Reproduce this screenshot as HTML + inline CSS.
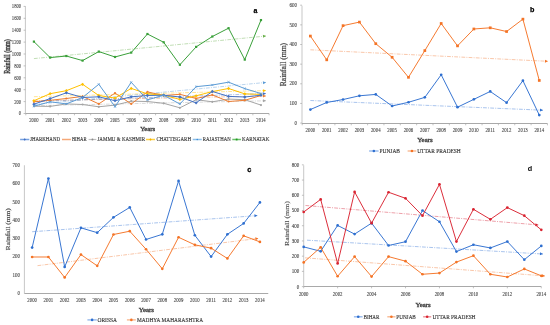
<!DOCTYPE html>
<html><head><meta charset="utf-8"><style>
html,body{margin:0;padding:0;background:#fff;}
body{width:550px;height:325px;overflow:hidden;font-family:"Liberation Serif", serif;}
svg{display:block;will-change:transform;}
</style></head><body>
<svg width="550" height="325" viewBox="0 0 550 325">
<rect width="550" height="325" fill="#fff"/>
<line x1="25.4" y1="6.2" x2="25.4" y2="113.5" stroke="#c4c4c4" stroke-width="0.95"/>
<line x1="25.4" y1="113.5" x2="269.1" y2="113.5" stroke="#a9a9a9" stroke-width="1.0"/>
<text x="21.2" y="115.45" font-size="5.4" fill="#444444" text-anchor="end" font-weight="normal" font-family='"Liberation Serif", serif' stroke="#444444" stroke-width="0.1" textLength="2.35" lengthAdjust="spacingAndGlyphs">0</text>
<line x1="23.6" y1="113.5" x2="25.4" y2="113.5" stroke="#a8a8a8" stroke-width="0.7"/>
<text x="21.2" y="103.55" font-size="5.4" fill="#444444" text-anchor="end" font-weight="normal" font-family='"Liberation Serif", serif' stroke="#444444" stroke-width="0.1" textLength="7.05" lengthAdjust="spacingAndGlyphs">200</text>
<line x1="23.6" y1="101.6" x2="25.4" y2="101.6" stroke="#a8a8a8" stroke-width="0.7"/>
<text x="21.2" y="91.65" font-size="5.4" fill="#444444" text-anchor="end" font-weight="normal" font-family='"Liberation Serif", serif' stroke="#444444" stroke-width="0.1" textLength="7.05" lengthAdjust="spacingAndGlyphs">400</text>
<line x1="23.6" y1="89.7" x2="25.4" y2="89.7" stroke="#a8a8a8" stroke-width="0.7"/>
<text x="21.2" y="79.75" font-size="5.4" fill="#444444" text-anchor="end" font-weight="normal" font-family='"Liberation Serif", serif' stroke="#444444" stroke-width="0.1" textLength="7.05" lengthAdjust="spacingAndGlyphs">600</text>
<line x1="23.6" y1="77.8" x2="25.4" y2="77.8" stroke="#a8a8a8" stroke-width="0.7"/>
<text x="21.2" y="67.85" font-size="5.4" fill="#444444" text-anchor="end" font-weight="normal" font-family='"Liberation Serif", serif' stroke="#444444" stroke-width="0.1" textLength="7.05" lengthAdjust="spacingAndGlyphs">800</text>
<line x1="23.6" y1="65.9" x2="25.4" y2="65.9" stroke="#a8a8a8" stroke-width="0.7"/>
<text x="21.2" y="55.95" font-size="5.4" fill="#444444" text-anchor="end" font-weight="normal" font-family='"Liberation Serif", serif' stroke="#444444" stroke-width="0.1" textLength="9.4" lengthAdjust="spacingAndGlyphs">1000</text>
<line x1="23.6" y1="54" x2="25.4" y2="54" stroke="#a8a8a8" stroke-width="0.7"/>
<text x="21.2" y="44.05" font-size="5.4" fill="#444444" text-anchor="end" font-weight="normal" font-family='"Liberation Serif", serif' stroke="#444444" stroke-width="0.1" textLength="9.4" lengthAdjust="spacingAndGlyphs">1200</text>
<line x1="23.6" y1="42.1" x2="25.4" y2="42.1" stroke="#a8a8a8" stroke-width="0.7"/>
<text x="21.2" y="32.15" font-size="5.4" fill="#444444" text-anchor="end" font-weight="normal" font-family='"Liberation Serif", serif' stroke="#444444" stroke-width="0.1" textLength="9.4" lengthAdjust="spacingAndGlyphs">1400</text>
<line x1="23.6" y1="30.2" x2="25.4" y2="30.2" stroke="#a8a8a8" stroke-width="0.7"/>
<text x="21.2" y="20.25" font-size="5.4" fill="#444444" text-anchor="end" font-weight="normal" font-family='"Liberation Serif", serif' stroke="#444444" stroke-width="0.1" textLength="9.4" lengthAdjust="spacingAndGlyphs">1600</text>
<line x1="23.6" y1="18.3" x2="25.4" y2="18.3" stroke="#a8a8a8" stroke-width="0.7"/>
<text x="21.2" y="8.35" font-size="5.4" fill="#444444" text-anchor="end" font-weight="normal" font-family='"Liberation Serif", serif' stroke="#444444" stroke-width="0.1" textLength="9.4" lengthAdjust="spacingAndGlyphs">1800</text>
<line x1="23.6" y1="6.4" x2="25.4" y2="6.4" stroke="#a8a8a8" stroke-width="0.7"/>
<line x1="25.8" y1="113.5" x2="25.8" y2="115.3" stroke="#a8a8a8" stroke-width="0.7"/>
<line x1="42.02" y1="113.5" x2="42.02" y2="115.3" stroke="#a8a8a8" stroke-width="0.7"/>
<line x1="58.24" y1="113.5" x2="58.24" y2="115.3" stroke="#a8a8a8" stroke-width="0.7"/>
<line x1="74.46" y1="113.5" x2="74.46" y2="115.3" stroke="#a8a8a8" stroke-width="0.7"/>
<line x1="90.68" y1="113.5" x2="90.68" y2="115.3" stroke="#a8a8a8" stroke-width="0.7"/>
<line x1="106.9" y1="113.5" x2="106.9" y2="115.3" stroke="#a8a8a8" stroke-width="0.7"/>
<line x1="123.12" y1="113.5" x2="123.12" y2="115.3" stroke="#a8a8a8" stroke-width="0.7"/>
<line x1="139.34" y1="113.5" x2="139.34" y2="115.3" stroke="#a8a8a8" stroke-width="0.7"/>
<line x1="155.56" y1="113.5" x2="155.56" y2="115.3" stroke="#a8a8a8" stroke-width="0.7"/>
<line x1="171.78" y1="113.5" x2="171.78" y2="115.3" stroke="#a8a8a8" stroke-width="0.7"/>
<line x1="188" y1="113.5" x2="188" y2="115.3" stroke="#a8a8a8" stroke-width="0.7"/>
<line x1="204.22" y1="113.5" x2="204.22" y2="115.3" stroke="#a8a8a8" stroke-width="0.7"/>
<line x1="220.44" y1="113.5" x2="220.44" y2="115.3" stroke="#a8a8a8" stroke-width="0.7"/>
<line x1="236.66" y1="113.5" x2="236.66" y2="115.3" stroke="#a8a8a8" stroke-width="0.7"/>
<line x1="252.88" y1="113.5" x2="252.88" y2="115.3" stroke="#a8a8a8" stroke-width="0.7"/>
<line x1="269.1" y1="113.5" x2="269.1" y2="115.3" stroke="#a8a8a8" stroke-width="0.7"/>
<text x="33.91" y="121.95" font-size="5.4" fill="#444444" text-anchor="middle" font-weight="normal" font-family='"Liberation Serif", serif' stroke="#444444" stroke-width="0.1" textLength="9.3" lengthAdjust="spacingAndGlyphs">2000</text>
<text x="50.13" y="121.95" font-size="5.4" fill="#444444" text-anchor="middle" font-weight="normal" font-family='"Liberation Serif", serif' stroke="#444444" stroke-width="0.1" textLength="9.3" lengthAdjust="spacingAndGlyphs">2001</text>
<text x="66.35" y="121.95" font-size="5.4" fill="#444444" text-anchor="middle" font-weight="normal" font-family='"Liberation Serif", serif' stroke="#444444" stroke-width="0.1" textLength="9.3" lengthAdjust="spacingAndGlyphs">2002</text>
<text x="82.57" y="121.95" font-size="5.4" fill="#444444" text-anchor="middle" font-weight="normal" font-family='"Liberation Serif", serif' stroke="#444444" stroke-width="0.1" textLength="9.3" lengthAdjust="spacingAndGlyphs">2003</text>
<text x="98.79" y="121.95" font-size="5.4" fill="#444444" text-anchor="middle" font-weight="normal" font-family='"Liberation Serif", serif' stroke="#444444" stroke-width="0.1" textLength="9.3" lengthAdjust="spacingAndGlyphs">2004</text>
<text x="115.01" y="121.95" font-size="5.4" fill="#444444" text-anchor="middle" font-weight="normal" font-family='"Liberation Serif", serif' stroke="#444444" stroke-width="0.1" textLength="9.3" lengthAdjust="spacingAndGlyphs">2005</text>
<text x="131.23" y="121.95" font-size="5.4" fill="#444444" text-anchor="middle" font-weight="normal" font-family='"Liberation Serif", serif' stroke="#444444" stroke-width="0.1" textLength="9.3" lengthAdjust="spacingAndGlyphs">2006</text>
<text x="147.45" y="121.95" font-size="5.4" fill="#444444" text-anchor="middle" font-weight="normal" font-family='"Liberation Serif", serif' stroke="#444444" stroke-width="0.1" textLength="9.3" lengthAdjust="spacingAndGlyphs">2007</text>
<text x="163.67" y="121.95" font-size="5.4" fill="#444444" text-anchor="middle" font-weight="normal" font-family='"Liberation Serif", serif' stroke="#444444" stroke-width="0.1" textLength="9.3" lengthAdjust="spacingAndGlyphs">2008</text>
<text x="179.89" y="121.95" font-size="5.4" fill="#444444" text-anchor="middle" font-weight="normal" font-family='"Liberation Serif", serif' stroke="#444444" stroke-width="0.1" textLength="9.3" lengthAdjust="spacingAndGlyphs">2009</text>
<text x="196.11" y="121.95" font-size="5.4" fill="#444444" text-anchor="middle" font-weight="normal" font-family='"Liberation Serif", serif' stroke="#444444" stroke-width="0.1" textLength="9.3" lengthAdjust="spacingAndGlyphs">2010</text>
<text x="212.33" y="121.95" font-size="5.4" fill="#444444" text-anchor="middle" font-weight="normal" font-family='"Liberation Serif", serif' stroke="#444444" stroke-width="0.1" textLength="9.3" lengthAdjust="spacingAndGlyphs">2011</text>
<text x="228.55" y="121.95" font-size="5.4" fill="#444444" text-anchor="middle" font-weight="normal" font-family='"Liberation Serif", serif' stroke="#444444" stroke-width="0.1" textLength="9.3" lengthAdjust="spacingAndGlyphs">2012</text>
<text x="244.77" y="121.95" font-size="5.4" fill="#444444" text-anchor="middle" font-weight="normal" font-family='"Liberation Serif", serif' stroke="#444444" stroke-width="0.1" textLength="9.3" lengthAdjust="spacingAndGlyphs">2013</text>
<text x="260.99" y="121.95" font-size="5.4" fill="#444444" text-anchor="middle" font-weight="normal" font-family='"Liberation Serif", serif' stroke="#444444" stroke-width="0.1" textLength="9.3" lengthAdjust="spacingAndGlyphs">2014</text>
<text x="147.6" y="131.2" font-size="6.9" fill="#404040" text-anchor="middle" font-weight="normal" font-family='"Liberation Serif", serif' stroke="#404040" stroke-width="0.38" textLength="14.9" lengthAdjust="spacingAndGlyphs">Years</text>
<text x="9.7" y="56.6" font-size="7.3" fill="#404040" text-anchor="middle" font-weight="normal" font-family='"Liberation Serif", serif' stroke="#404040" stroke-width="0.4" transform="rotate(-90 9.7 56.6)" textLength="34.5" lengthAdjust="spacingAndGlyphs">Rainfall (mm)</text>
<text x="255.4" y="12.9" font-size="7" fill="#000" text-anchor="middle" font-weight="bold" font-family='"Liberation Sans", sans-serif' stroke="#000" stroke-width="0.25">a</text>
<line x1="33.91" y1="105.7" x2="265.99" y2="100.79" stroke="#a5a5a5" stroke-width="0.7" stroke-dasharray="3.8 1.2 1 1.2" stroke-opacity="0.6"/>
<polygon points="265.99,100.79 263.02,102.36 262.96,99.36" fill="#a5a5a5"/>
<line x1="33.91" y1="100.9" x2="265.99" y2="95.99" stroke="#ed7d31" stroke-width="0.7" stroke-dasharray="3.8 1.2 1 1.2" stroke-opacity="0.6"/>
<polygon points="265.99,95.99 263.02,97.56 262.96,94.56" fill="#ed7d31"/>
<line x1="33.91" y1="96.7" x2="265.99" y2="90.57" stroke="#ffc000" stroke-width="0.7" stroke-dasharray="3.8 1.2 1 1.2" stroke-opacity="0.6"/>
<polygon points="265.99,90.57 263.03,92.15 262.95,89.15" fill="#ffc000"/>
<line x1="33.91" y1="101.5" x2="265.99" y2="93.53" stroke="#4472c4" stroke-width="0.7" stroke-dasharray="3.8 1.2 1 1.2" stroke-opacity="0.6"/>
<polygon points="265.99,93.53 263.04,95.13 262.94,92.13" fill="#4472c4"/>
<line x1="33.91" y1="104.5" x2="265.99" y2="82.42" stroke="#5b9bd5" stroke-width="0.7" stroke-dasharray="3.8 1.2 1 1.2" stroke-opacity="0.6"/>
<polygon points="265.99,82.42 263.15,84.2 262.86,81.22" fill="#5b9bd5"/>
<line x1="33.91" y1="58.6" x2="265.99" y2="36.03" stroke="#6ab04c" stroke-width="0.7" stroke-dasharray="3.8 1.2 1 1.2" stroke-opacity="0.6"/>
<polygon points="265.99,36.03 263.15,37.82 262.86,34.83" fill="#6ab04c"/>
<polyline fill="none" stroke="#a5a5a5" stroke-width="1.0" stroke-linejoin="round" points="33.91,106.18 50.13,106.42 66.35,103.9 82.57,104.5 98.79,106.78 115.01,105.1 131.23,101.2 147.45,101.5 163.67,103.3 179.89,107.8 196.11,99.7 212.33,101.8 228.55,99.1 244.77,99.7 260.99,105.1"/>
<circle cx="33.91" cy="106.18" r="1.1" fill="#a5a5a5"/>
<circle cx="50.13" cy="106.42" r="1.1" fill="#a5a5a5"/>
<circle cx="66.35" cy="103.9" r="1.1" fill="#a5a5a5"/>
<circle cx="82.57" cy="104.5" r="1.1" fill="#a5a5a5"/>
<circle cx="98.79" cy="106.78" r="1.1" fill="#a5a5a5"/>
<circle cx="115.01" cy="105.1" r="1.1" fill="#a5a5a5"/>
<circle cx="131.23" cy="101.2" r="1.1" fill="#a5a5a5"/>
<circle cx="147.45" cy="101.5" r="1.1" fill="#a5a5a5"/>
<circle cx="163.67" cy="103.3" r="1.1" fill="#a5a5a5"/>
<circle cx="179.89" cy="107.8" r="1.1" fill="#a5a5a5"/>
<circle cx="196.11" cy="99.7" r="1.1" fill="#a5a5a5"/>
<circle cx="212.33" cy="101.8" r="1.1" fill="#a5a5a5"/>
<circle cx="228.55" cy="99.1" r="1.1" fill="#a5a5a5"/>
<circle cx="244.77" cy="99.7" r="1.1" fill="#a5a5a5"/>
<circle cx="260.99" cy="105.1" r="1.1" fill="#a5a5a5"/>
<polyline fill="none" stroke="#ed7d31" stroke-width="1.0" stroke-linejoin="round" points="33.91,101.8 50.13,100.3 66.35,98.5 82.57,96.4 98.79,103.9 115.01,93.1 131.23,103.9 147.45,91.9 163.67,95.5 179.89,94.3 196.11,98.5 212.33,94.9 228.55,101.5 244.77,100.3 260.99,95.5"/>
<circle cx="33.91" cy="101.8" r="1.1" fill="#ed7d31"/>
<circle cx="50.13" cy="100.3" r="1.1" fill="#ed7d31"/>
<circle cx="66.35" cy="98.5" r="1.1" fill="#ed7d31"/>
<circle cx="82.57" cy="96.4" r="1.1" fill="#ed7d31"/>
<circle cx="98.79" cy="103.9" r="1.1" fill="#ed7d31"/>
<circle cx="115.01" cy="93.1" r="1.1" fill="#ed7d31"/>
<circle cx="131.23" cy="103.9" r="1.1" fill="#ed7d31"/>
<circle cx="147.45" cy="91.9" r="1.1" fill="#ed7d31"/>
<circle cx="163.67" cy="95.5" r="1.1" fill="#ed7d31"/>
<circle cx="179.89" cy="94.3" r="1.1" fill="#ed7d31"/>
<circle cx="196.11" cy="98.5" r="1.1" fill="#ed7d31"/>
<circle cx="212.33" cy="94.9" r="1.1" fill="#ed7d31"/>
<circle cx="228.55" cy="101.5" r="1.1" fill="#ed7d31"/>
<circle cx="244.77" cy="100.3" r="1.1" fill="#ed7d31"/>
<circle cx="260.99" cy="95.5" r="1.1" fill="#ed7d31"/>
<polyline fill="none" stroke="#ffc000" stroke-width="1.0" stroke-linejoin="round" points="33.91,100.72 50.13,93.7 66.35,90.7 82.57,84.28 98.79,95.5 115.01,98.08 131.23,88.42 147.45,93.88 163.67,95.2 179.89,99.4 196.11,95.8 212.33,91.6 228.55,88.48 244.77,93.88 260.99,94.42"/>
<polygon points="33.91,99.07 35.56,100.72 33.91,102.37 32.26,100.72" fill="#ffc000"/>
<polygon points="50.13,92.05 51.78,93.7 50.13,95.35 48.48,93.7" fill="#ffc000"/>
<polygon points="66.35,89.05 68,90.7 66.35,92.35 64.7,90.7" fill="#ffc000"/>
<polygon points="82.57,82.63 84.22,84.28 82.57,85.93 80.92,84.28" fill="#ffc000"/>
<polygon points="98.79,93.85 100.44,95.5 98.79,97.15 97.14,95.5" fill="#ffc000"/>
<polygon points="115.01,96.43 116.66,98.08 115.01,99.73 113.36,98.08" fill="#ffc000"/>
<polygon points="131.23,86.77 132.88,88.42 131.23,90.07 129.58,88.42" fill="#ffc000"/>
<polygon points="147.45,92.23 149.1,93.88 147.45,95.53 145.8,93.88" fill="#ffc000"/>
<polygon points="163.67,93.55 165.32,95.2 163.67,96.85 162.02,95.2" fill="#ffc000"/>
<polygon points="179.89,97.75 181.54,99.4 179.89,101.05 178.24,99.4" fill="#ffc000"/>
<polygon points="196.11,94.15 197.76,95.8 196.11,97.45 194.46,95.8" fill="#ffc000"/>
<polygon points="212.33,89.95 213.98,91.6 212.33,93.25 210.68,91.6" fill="#ffc000"/>
<polygon points="228.55,86.83 230.2,88.48 228.55,90.13 226.9,88.48" fill="#ffc000"/>
<polygon points="244.77,92.23 246.42,93.88 244.77,95.53 243.12,93.88" fill="#ffc000"/>
<polygon points="260.99,92.77 262.64,94.42 260.99,96.07 259.34,94.42" fill="#ffc000"/>
<polyline fill="none" stroke="#4472c4" stroke-width="1.0" stroke-linejoin="round" points="33.91,104.2 50.13,98.62 66.35,92.8 82.57,97.48 98.79,96.82 115.01,100.72 131.23,96.82 147.45,95.5 163.67,95.2 179.89,97 196.11,102.82 212.33,91.48 228.55,96.4 244.77,97 260.99,95.2"/>
<polygon points="33.91,102.55 35.56,104.2 33.91,105.85 32.26,104.2" fill="#4472c4"/>
<polygon points="50.13,96.97 51.78,98.62 50.13,100.27 48.48,98.62" fill="#4472c4"/>
<polygon points="66.35,91.15 68,92.8 66.35,94.45 64.7,92.8" fill="#4472c4"/>
<polygon points="82.57,95.83 84.22,97.48 82.57,99.13 80.92,97.48" fill="#4472c4"/>
<polygon points="98.79,95.17 100.44,96.82 98.79,98.47 97.14,96.82" fill="#4472c4"/>
<polygon points="115.01,99.07 116.66,100.72 115.01,102.37 113.36,100.72" fill="#4472c4"/>
<polygon points="131.23,95.17 132.88,96.82 131.23,98.47 129.58,96.82" fill="#4472c4"/>
<polygon points="147.45,93.85 149.1,95.5 147.45,97.15 145.8,95.5" fill="#4472c4"/>
<polygon points="163.67,93.55 165.32,95.2 163.67,96.85 162.02,95.2" fill="#4472c4"/>
<polygon points="179.89,95.35 181.54,97 179.89,98.65 178.24,97" fill="#4472c4"/>
<polygon points="196.11,101.17 197.76,102.82 196.11,104.47 194.46,102.82" fill="#4472c4"/>
<polygon points="212.33,89.83 213.98,91.48 212.33,93.13 210.68,91.48" fill="#4472c4"/>
<polygon points="228.55,94.75 230.2,96.4 228.55,98.05 226.9,96.4" fill="#4472c4"/>
<polygon points="244.77,95.35 246.42,97 244.77,98.65 243.12,97" fill="#4472c4"/>
<polygon points="260.99,93.55 262.64,95.2 260.99,96.85 259.34,95.2" fill="#4472c4"/>
<polyline fill="none" stroke="#5b9bd5" stroke-width="1.0" stroke-linejoin="round" points="33.91,106.18 50.13,101.8 66.35,103.9 82.57,97.48 98.79,84.28 115.01,106.72 131.23,82.3 147.45,99.88 163.67,95.2 179.89,104.02 196.11,86.68 212.33,85 228.55,82.18 244.77,88.6 260.99,93.52"/>
<path d="M32.81 105.08L35.01 107.28M32.81 107.28L35.01 105.08" stroke="#5b9bd5" stroke-width="0.7"/>
<path d="M49.03 100.7L51.23 102.9M49.03 102.9L51.23 100.7" stroke="#5b9bd5" stroke-width="0.7"/>
<path d="M65.25 102.8L67.45 105M65.25 105L67.45 102.8" stroke="#5b9bd5" stroke-width="0.7"/>
<path d="M81.47 96.38L83.67 98.58M81.47 98.58L83.67 96.38" stroke="#5b9bd5" stroke-width="0.7"/>
<path d="M97.69 83.18L99.89 85.38M97.69 85.38L99.89 83.18" stroke="#5b9bd5" stroke-width="0.7"/>
<path d="M113.91 105.62L116.11 107.82M113.91 107.82L116.11 105.62" stroke="#5b9bd5" stroke-width="0.7"/>
<path d="M130.13 81.2L132.33 83.4M130.13 83.4L132.33 81.2" stroke="#5b9bd5" stroke-width="0.7"/>
<path d="M146.35 98.78L148.55 100.98M146.35 100.98L148.55 98.78" stroke="#5b9bd5" stroke-width="0.7"/>
<path d="M162.57 94.1L164.77 96.3M162.57 96.3L164.77 94.1" stroke="#5b9bd5" stroke-width="0.7"/>
<path d="M178.79 102.92L180.99 105.12M178.79 105.12L180.99 102.92" stroke="#5b9bd5" stroke-width="0.7"/>
<path d="M195.01 85.58L197.21 87.78M195.01 87.78L197.21 85.58" stroke="#5b9bd5" stroke-width="0.7"/>
<path d="M211.23 83.9L213.43 86.1M211.23 86.1L213.43 83.9" stroke="#5b9bd5" stroke-width="0.7"/>
<path d="M227.45 81.08L229.65 83.28M227.45 83.28L229.65 81.08" stroke="#5b9bd5" stroke-width="0.7"/>
<path d="M243.67 87.5L245.87 89.7M243.67 89.7L245.87 87.5" stroke="#5b9bd5" stroke-width="0.7"/>
<path d="M259.89 92.42L262.09 94.62M259.89 94.62L262.09 92.42" stroke="#5b9bd5" stroke-width="0.7"/>
<polyline fill="none" stroke="#3aa03a" stroke-width="1.0" stroke-linejoin="round" points="33.91,41.62 50.13,57.58 66.35,56.02 82.57,60.58 98.79,51.58 115.01,56.98 131.23,52.6 147.45,34 163.67,42.28 179.89,64.78 196.11,46.9 212.33,36.52 228.55,28.18 244.77,59.62 260.99,20.08"/>
<rect x="32.81" y="40.52" width="2.2" height="2.2" fill="#3aa03a"/>
<rect x="49.03" y="56.48" width="2.2" height="2.2" fill="#3aa03a"/>
<rect x="65.25" y="54.92" width="2.2" height="2.2" fill="#3aa03a"/>
<rect x="81.47" y="59.48" width="2.2" height="2.2" fill="#3aa03a"/>
<rect x="97.69" y="50.48" width="2.2" height="2.2" fill="#3aa03a"/>
<rect x="113.91" y="55.88" width="2.2" height="2.2" fill="#3aa03a"/>
<rect x="130.13" y="51.5" width="2.2" height="2.2" fill="#3aa03a"/>
<rect x="146.35" y="32.9" width="2.2" height="2.2" fill="#3aa03a"/>
<rect x="162.57" y="41.18" width="2.2" height="2.2" fill="#3aa03a"/>
<rect x="178.79" y="63.68" width="2.2" height="2.2" fill="#3aa03a"/>
<rect x="195.01" y="45.8" width="2.2" height="2.2" fill="#3aa03a"/>
<rect x="211.23" y="35.42" width="2.2" height="2.2" fill="#3aa03a"/>
<rect x="227.45" y="27.08" width="2.2" height="2.2" fill="#3aa03a"/>
<rect x="243.67" y="58.52" width="2.2" height="2.2" fill="#3aa03a"/>
<rect x="259.89" y="18.98" width="2.2" height="2.2" fill="#3aa03a"/>
<line x1="20.1" y1="139.5" x2="29.3" y2="139.5" stroke="#7aa3e0" stroke-width="1.5"/>
<polygon points="24.7,138.3 25.9,139.5 24.7,140.7 23.5,139.5" fill="#3f6fc4"/>
<text x="30" y="141.24" font-size="5.8" fill="#383838" text-anchor="start" font-weight="normal" font-family='"Liberation Serif", serif' stroke="#383838" stroke-width="0.15" textLength="30" lengthAdjust="spacingAndGlyphs">JHARKHAND</text>
<line x1="62" y1="139.5" x2="70.9" y2="139.5" stroke="#f5a878" stroke-width="1.5"/>
<text x="71.9" y="141.24" font-size="5.8" fill="#383838" text-anchor="start" font-weight="normal" font-family='"Liberation Serif", serif' stroke="#383838" stroke-width="0.15" textLength="14.7" lengthAdjust="spacingAndGlyphs">BIHAR</text>
<line x1="88.6" y1="139.5" x2="96.3" y2="139.5" stroke="#c0c0c0" stroke-width="1.2"/>
<circle cx="92.45" cy="139.5" r="0.95" fill="#8a8a8a"/>
<text x="97.4" y="141.24" font-size="5.8" fill="#383838" text-anchor="start" font-weight="normal" font-family='"Liberation Serif", serif' stroke="#383838" stroke-width="0.15" textLength="47.6" lengthAdjust="spacingAndGlyphs">JAMMU &amp; KASHMIR</text>
<line x1="146" y1="139.5" x2="155" y2="139.5" stroke="#ffd040" stroke-width="1.5"/>
<polygon points="150.5,138.3 151.7,139.5 150.5,140.7 149.3,139.5" fill="#f0b000"/>
<text x="156.4" y="141.24" font-size="5.8" fill="#383838" text-anchor="start" font-weight="normal" font-family='"Liberation Serif", serif' stroke="#383838" stroke-width="0.15" textLength="34.6" lengthAdjust="spacingAndGlyphs">CHATTISGARH</text>
<line x1="192.7" y1="139.5" x2="201.8" y2="139.5" stroke="#8fc0ea" stroke-width="1.5"/>
<circle cx="197.25" cy="139.5" r="0.8" fill="#3d8fd8"/>
<text x="202.7" y="141.24" font-size="5.8" fill="#383838" text-anchor="start" font-weight="normal" font-family='"Liberation Serif", serif' stroke="#383838" stroke-width="0.15" textLength="28" lengthAdjust="spacingAndGlyphs">RAJASTHAN</text>
<line x1="232.3" y1="139.5" x2="241" y2="139.5" stroke="#6cc06c" stroke-width="1.5"/>
<rect x="235.75" y="138.6" width="1.8" height="1.8" fill="#1e9a1e"/>
<text x="242" y="141.24" font-size="5.8" fill="#383838" text-anchor="start" font-weight="normal" font-family='"Liberation Serif", serif' stroke="#383838" stroke-width="0.15" textLength="27.3" lengthAdjust="spacingAndGlyphs">KARNATAK</text>
<line x1="302" y1="5.7" x2="302" y2="123.5" stroke="#c4c4c4" stroke-width="0.95"/>
<line x1="302" y1="123.5" x2="547.45" y2="123.5" stroke="#a9a9a9" stroke-width="1.0"/>
<text x="297" y="124.75" font-size="5.4" fill="#444444" text-anchor="end" font-weight="normal" font-family='"Liberation Serif", serif' stroke="#444444" stroke-width="0.1" textLength="2.5" lengthAdjust="spacingAndGlyphs">0</text>
<line x1="300.2" y1="123.1" x2="302" y2="123.1" stroke="#a8a8a8" stroke-width="0.7"/>
<text x="297" y="105.1" font-size="5.4" fill="#444444" text-anchor="end" font-weight="normal" font-family='"Liberation Serif", serif' stroke="#444444" stroke-width="0.1" textLength="7.5" lengthAdjust="spacingAndGlyphs">100</text>
<line x1="300.2" y1="103.45" x2="302" y2="103.45" stroke="#a8a8a8" stroke-width="0.7"/>
<text x="297" y="85.45" font-size="5.4" fill="#444444" text-anchor="end" font-weight="normal" font-family='"Liberation Serif", serif' stroke="#444444" stroke-width="0.1" textLength="7.5" lengthAdjust="spacingAndGlyphs">200</text>
<line x1="300.2" y1="83.8" x2="302" y2="83.8" stroke="#a8a8a8" stroke-width="0.7"/>
<text x="297" y="65.8" font-size="5.4" fill="#444444" text-anchor="end" font-weight="normal" font-family='"Liberation Serif", serif' stroke="#444444" stroke-width="0.1" textLength="7.5" lengthAdjust="spacingAndGlyphs">300</text>
<line x1="300.2" y1="64.15" x2="302" y2="64.15" stroke="#a8a8a8" stroke-width="0.7"/>
<text x="297" y="46.15" font-size="5.4" fill="#444444" text-anchor="end" font-weight="normal" font-family='"Liberation Serif", serif' stroke="#444444" stroke-width="0.1" textLength="7.5" lengthAdjust="spacingAndGlyphs">400</text>
<line x1="300.2" y1="44.5" x2="302" y2="44.5" stroke="#a8a8a8" stroke-width="0.7"/>
<text x="297" y="26.5" font-size="5.4" fill="#444444" text-anchor="end" font-weight="normal" font-family='"Liberation Serif", serif' stroke="#444444" stroke-width="0.1" textLength="7.5" lengthAdjust="spacingAndGlyphs">500</text>
<line x1="300.2" y1="24.85" x2="302" y2="24.85" stroke="#a8a8a8" stroke-width="0.7"/>
<text x="297" y="6.85" font-size="5.4" fill="#444444" text-anchor="end" font-weight="normal" font-family='"Liberation Serif", serif' stroke="#444444" stroke-width="0.1" textLength="7.5" lengthAdjust="spacingAndGlyphs">600</text>
<line x1="300.2" y1="5.2" x2="302" y2="5.2" stroke="#a8a8a8" stroke-width="0.7"/>
<line x1="302.2" y1="123.5" x2="302.2" y2="125.3" stroke="#a8a8a8" stroke-width="0.7"/>
<line x1="318.55" y1="123.5" x2="318.55" y2="125.3" stroke="#a8a8a8" stroke-width="0.7"/>
<line x1="334.9" y1="123.5" x2="334.9" y2="125.3" stroke="#a8a8a8" stroke-width="0.7"/>
<line x1="351.25" y1="123.5" x2="351.25" y2="125.3" stroke="#a8a8a8" stroke-width="0.7"/>
<line x1="367.6" y1="123.5" x2="367.6" y2="125.3" stroke="#a8a8a8" stroke-width="0.7"/>
<line x1="383.95" y1="123.5" x2="383.95" y2="125.3" stroke="#a8a8a8" stroke-width="0.7"/>
<line x1="400.3" y1="123.5" x2="400.3" y2="125.3" stroke="#a8a8a8" stroke-width="0.7"/>
<line x1="416.65" y1="123.5" x2="416.65" y2="125.3" stroke="#a8a8a8" stroke-width="0.7"/>
<line x1="433" y1="123.5" x2="433" y2="125.3" stroke="#a8a8a8" stroke-width="0.7"/>
<line x1="449.35" y1="123.5" x2="449.35" y2="125.3" stroke="#a8a8a8" stroke-width="0.7"/>
<line x1="465.7" y1="123.5" x2="465.7" y2="125.3" stroke="#a8a8a8" stroke-width="0.7"/>
<line x1="482.05" y1="123.5" x2="482.05" y2="125.3" stroke="#a8a8a8" stroke-width="0.7"/>
<line x1="498.4" y1="123.5" x2="498.4" y2="125.3" stroke="#a8a8a8" stroke-width="0.7"/>
<line x1="514.75" y1="123.5" x2="514.75" y2="125.3" stroke="#a8a8a8" stroke-width="0.7"/>
<line x1="531.1" y1="123.5" x2="531.1" y2="125.3" stroke="#a8a8a8" stroke-width="0.7"/>
<line x1="547.45" y1="123.5" x2="547.45" y2="125.3" stroke="#a8a8a8" stroke-width="0.7"/>
<text x="310.38" y="132.1" font-size="5.4" fill="#444444" text-anchor="middle" font-weight="normal" font-family='"Liberation Serif", serif' stroke="#444444" stroke-width="0.1" textLength="9.6" lengthAdjust="spacingAndGlyphs">2000</text>
<text x="326.73" y="132.1" font-size="5.4" fill="#444444" text-anchor="middle" font-weight="normal" font-family='"Liberation Serif", serif' stroke="#444444" stroke-width="0.1" textLength="9.6" lengthAdjust="spacingAndGlyphs">2001</text>
<text x="343.07" y="132.1" font-size="5.4" fill="#444444" text-anchor="middle" font-weight="normal" font-family='"Liberation Serif", serif' stroke="#444444" stroke-width="0.1" textLength="9.6" lengthAdjust="spacingAndGlyphs">2002</text>
<text x="359.43" y="132.1" font-size="5.4" fill="#444444" text-anchor="middle" font-weight="normal" font-family='"Liberation Serif", serif' stroke="#444444" stroke-width="0.1" textLength="9.6" lengthAdjust="spacingAndGlyphs">2003</text>
<text x="375.77" y="132.1" font-size="5.4" fill="#444444" text-anchor="middle" font-weight="normal" font-family='"Liberation Serif", serif' stroke="#444444" stroke-width="0.1" textLength="9.6" lengthAdjust="spacingAndGlyphs">2004</text>
<text x="392.12" y="132.1" font-size="5.4" fill="#444444" text-anchor="middle" font-weight="normal" font-family='"Liberation Serif", serif' stroke="#444444" stroke-width="0.1" textLength="9.6" lengthAdjust="spacingAndGlyphs">2005</text>
<text x="408.48" y="132.1" font-size="5.4" fill="#444444" text-anchor="middle" font-weight="normal" font-family='"Liberation Serif", serif' stroke="#444444" stroke-width="0.1" textLength="9.6" lengthAdjust="spacingAndGlyphs">2006</text>
<text x="424.83" y="132.1" font-size="5.4" fill="#444444" text-anchor="middle" font-weight="normal" font-family='"Liberation Serif", serif' stroke="#444444" stroke-width="0.1" textLength="9.6" lengthAdjust="spacingAndGlyphs">2007</text>
<text x="441.18" y="132.1" font-size="5.4" fill="#444444" text-anchor="middle" font-weight="normal" font-family='"Liberation Serif", serif' stroke="#444444" stroke-width="0.1" textLength="9.6" lengthAdjust="spacingAndGlyphs">2008</text>
<text x="457.52" y="132.1" font-size="5.4" fill="#444444" text-anchor="middle" font-weight="normal" font-family='"Liberation Serif", serif' stroke="#444444" stroke-width="0.1" textLength="9.6" lengthAdjust="spacingAndGlyphs">2009</text>
<text x="473.88" y="132.1" font-size="5.4" fill="#444444" text-anchor="middle" font-weight="normal" font-family='"Liberation Serif", serif' stroke="#444444" stroke-width="0.1" textLength="9.6" lengthAdjust="spacingAndGlyphs">2010</text>
<text x="490.23" y="132.1" font-size="5.4" fill="#444444" text-anchor="middle" font-weight="normal" font-family='"Liberation Serif", serif' stroke="#444444" stroke-width="0.1" textLength="9.6" lengthAdjust="spacingAndGlyphs">2011</text>
<text x="506.58" y="132.1" font-size="5.4" fill="#444444" text-anchor="middle" font-weight="normal" font-family='"Liberation Serif", serif' stroke="#444444" stroke-width="0.1" textLength="9.6" lengthAdjust="spacingAndGlyphs">2012</text>
<text x="522.92" y="132.1" font-size="5.4" fill="#444444" text-anchor="middle" font-weight="normal" font-family='"Liberation Serif", serif' stroke="#444444" stroke-width="0.1" textLength="9.6" lengthAdjust="spacingAndGlyphs">2013</text>
<text x="539.28" y="132.1" font-size="5.4" fill="#444444" text-anchor="middle" font-weight="normal" font-family='"Liberation Serif", serif' stroke="#444444" stroke-width="0.1" textLength="9.6" lengthAdjust="spacingAndGlyphs">2014</text>
<text x="425" y="142.4" font-size="7" fill="#404040" text-anchor="middle" font-weight="normal" font-family='"Liberation Serif", serif' stroke="#404040" stroke-width="0.38" textLength="15.5" lengthAdjust="spacingAndGlyphs">Years</text>
<text x="286.3" y="64.6" font-size="7.2" fill="#404040" text-anchor="middle" font-weight="normal" font-family='"Liberation Serif", serif' stroke="#404040" stroke-width="0.2" transform="rotate(-90 286.3 64.6)" textLength="43.5" lengthAdjust="spacingAndGlyphs">Rainfall (mm)</text>
<text x="532.1" y="12.3" font-size="7.2" fill="#000" text-anchor="middle" font-weight="bold" font-family='"Liberation Sans", sans-serif' stroke="#000" stroke-width="0.25">b</text>
<line x1="310.38" y1="100.5" x2="543" y2="110.2" stroke="#6d9be0" stroke-width="0.7" stroke-dasharray="3.8 1.2 1 1.2" stroke-opacity="0.85"/>
<polygon points="543,110.2 539.94,111.57 540.07,108.58" fill="#2e6fd0"/>
<line x1="310.38" y1="49.81" x2="548" y2="61.3" stroke="#f5a070" stroke-width="0.7" stroke-dasharray="3.8 1.2 1 1.2" stroke-opacity="0.85"/>
<polygon points="548,61.3 544.93,62.65 545.08,59.66" fill="#f47325"/>
<polyline fill="none" stroke="#2e6fd0" stroke-width="0.95" stroke-linejoin="round" points="310.38,109.54 326.73,102.47 343.07,99.52 359.43,95.79 375.77,94.41 392.12,106 408.48,102.27 424.83,97.36 441.18,74.76 457.52,107.18 473.88,99.32 490.23,91.46 506.58,102.66 522.92,80.66 539.28,115.04"/>
<circle cx="310.38" cy="109.54" r="1.35" fill="#2e6fd0"/>
<circle cx="326.73" cy="102.47" r="1.35" fill="#2e6fd0"/>
<circle cx="343.07" cy="99.52" r="1.35" fill="#2e6fd0"/>
<circle cx="359.43" cy="95.79" r="1.35" fill="#2e6fd0"/>
<circle cx="375.77" cy="94.41" r="1.35" fill="#2e6fd0"/>
<circle cx="392.12" cy="106" r="1.35" fill="#2e6fd0"/>
<circle cx="408.48" cy="102.27" r="1.35" fill="#2e6fd0"/>
<circle cx="424.83" cy="97.36" r="1.35" fill="#2e6fd0"/>
<circle cx="441.18" cy="74.76" r="1.35" fill="#2e6fd0"/>
<circle cx="457.52" cy="107.18" r="1.35" fill="#2e6fd0"/>
<circle cx="473.88" cy="99.32" r="1.35" fill="#2e6fd0"/>
<circle cx="490.23" cy="91.46" r="1.35" fill="#2e6fd0"/>
<circle cx="506.58" cy="102.66" r="1.35" fill="#2e6fd0"/>
<circle cx="522.92" cy="80.66" r="1.35" fill="#2e6fd0"/>
<circle cx="539.28" cy="115.04" r="1.35" fill="#2e6fd0"/>
<polyline fill="none" stroke="#f47325" stroke-width="0.95" stroke-linejoin="round" points="310.38,36.05 326.73,59.83 343.07,25.64 359.43,22.1 375.77,43.71 392.12,57.27 408.48,77.32 424.83,50.59 441.18,23.47 457.52,45.88 473.88,28.98 490.23,27.8 506.58,31.53 522.92,19.15 539.28,80.46"/>
<rect x="309.02" y="34.7" width="2.7" height="2.7" fill="#f47325"/>
<rect x="325.38" y="58.48" width="2.7" height="2.7" fill="#f47325"/>
<rect x="341.72" y="24.29" width="2.7" height="2.7" fill="#f47325"/>
<rect x="358.07" y="20.75" width="2.7" height="2.7" fill="#f47325"/>
<rect x="374.42" y="42.36" width="2.7" height="2.7" fill="#f47325"/>
<rect x="390.77" y="55.92" width="2.7" height="2.7" fill="#f47325"/>
<rect x="407.12" y="75.97" width="2.7" height="2.7" fill="#f47325"/>
<rect x="423.48" y="49.24" width="2.7" height="2.7" fill="#f47325"/>
<rect x="439.82" y="22.12" width="2.7" height="2.7" fill="#f47325"/>
<rect x="456.17" y="44.53" width="2.7" height="2.7" fill="#f47325"/>
<rect x="472.52" y="27.63" width="2.7" height="2.7" fill="#f47325"/>
<rect x="488.88" y="26.45" width="2.7" height="2.7" fill="#f47325"/>
<rect x="505.23" y="30.18" width="2.7" height="2.7" fill="#f47325"/>
<rect x="521.57" y="17.8" width="2.7" height="2.7" fill="#f47325"/>
<rect x="537.93" y="79.11" width="2.7" height="2.7" fill="#f47325"/>
<line x1="369.1" y1="151" x2="378.6" y2="151" stroke="#8fb4ea" stroke-width="1.3"/>
<circle cx="373.85" cy="151" r="1.3" fill="#2e6fd0"/>
<text x="379.5" y="152.74" font-size="5.8" fill="#383838" text-anchor="start" font-weight="normal" font-family='"Liberation Serif", serif' stroke="#383838" stroke-width="0.15" textLength="20.4" lengthAdjust="spacingAndGlyphs">PUNJAB</text>
<line x1="407.6" y1="151" x2="416.3" y2="151" stroke="#f8b48a" stroke-width="1.3"/>
<circle cx="411.95" cy="151" r="1.3" fill="#f47325"/>
<text x="417.2" y="152.74" font-size="5.8" fill="#383838" text-anchor="start" font-weight="normal" font-family='"Liberation Serif", serif' stroke="#383838" stroke-width="0.15" textLength="43.6" lengthAdjust="spacingAndGlyphs">UTTAR PRADESH</text>
<line x1="24.4" y1="165.26" x2="24.4" y2="293.5" stroke="#c4c4c4" stroke-width="0.95"/>
<line x1="24.4" y1="293.5" x2="268.25" y2="293.5" stroke="#a9a9a9" stroke-width="1.0"/>
<text x="19.9" y="295.1" font-size="5.4" fill="#444444" text-anchor="end" font-weight="normal" font-family='"Liberation Serif", serif' stroke="#444444" stroke-width="0.1" textLength="2.5" lengthAdjust="spacingAndGlyphs">0</text>
<text x="19.9" y="276.78" font-size="5.4" fill="#444444" text-anchor="end" font-weight="normal" font-family='"Liberation Serif", serif' stroke="#444444" stroke-width="0.1" textLength="7.5" lengthAdjust="spacingAndGlyphs">100</text>
<text x="19.9" y="258.46" font-size="5.4" fill="#444444" text-anchor="end" font-weight="normal" font-family='"Liberation Serif", serif' stroke="#444444" stroke-width="0.1" textLength="7.5" lengthAdjust="spacingAndGlyphs">200</text>
<text x="19.9" y="240.14" font-size="5.4" fill="#444444" text-anchor="end" font-weight="normal" font-family='"Liberation Serif", serif' stroke="#444444" stroke-width="0.1" textLength="7.5" lengthAdjust="spacingAndGlyphs">300</text>
<text x="19.9" y="221.82" font-size="5.4" fill="#444444" text-anchor="end" font-weight="normal" font-family='"Liberation Serif", serif' stroke="#444444" stroke-width="0.1" textLength="7.5" lengthAdjust="spacingAndGlyphs">400</text>
<text x="19.9" y="203.5" font-size="5.4" fill="#444444" text-anchor="end" font-weight="normal" font-family='"Liberation Serif", serif' stroke="#444444" stroke-width="0.1" textLength="7.5" lengthAdjust="spacingAndGlyphs">500</text>
<text x="19.9" y="185.18" font-size="5.4" fill="#444444" text-anchor="end" font-weight="normal" font-family='"Liberation Serif", serif' stroke="#444444" stroke-width="0.1" textLength="7.5" lengthAdjust="spacingAndGlyphs">600</text>
<text x="19.9" y="166.86" font-size="5.4" fill="#444444" text-anchor="end" font-weight="normal" font-family='"Liberation Serif", serif' stroke="#444444" stroke-width="0.1" textLength="7.5" lengthAdjust="spacingAndGlyphs">700</text>
<text x="32.13" y="302.3" font-size="5.4" fill="#444444" text-anchor="middle" font-weight="normal" font-family='"Liberation Serif", serif' stroke="#444444" stroke-width="0.1" textLength="9.6" lengthAdjust="spacingAndGlyphs">2000</text>
<text x="48.41" y="302.3" font-size="5.4" fill="#444444" text-anchor="middle" font-weight="normal" font-family='"Liberation Serif", serif' stroke="#444444" stroke-width="0.1" textLength="9.6" lengthAdjust="spacingAndGlyphs">2001</text>
<text x="64.67" y="302.3" font-size="5.4" fill="#444444" text-anchor="middle" font-weight="normal" font-family='"Liberation Serif", serif' stroke="#444444" stroke-width="0.1" textLength="9.6" lengthAdjust="spacingAndGlyphs">2002</text>
<text x="80.94" y="302.3" font-size="5.4" fill="#444444" text-anchor="middle" font-weight="normal" font-family='"Liberation Serif", serif' stroke="#444444" stroke-width="0.1" textLength="9.6" lengthAdjust="spacingAndGlyphs">2003</text>
<text x="97.22" y="302.3" font-size="5.4" fill="#444444" text-anchor="middle" font-weight="normal" font-family='"Liberation Serif", serif' stroke="#444444" stroke-width="0.1" textLength="9.6" lengthAdjust="spacingAndGlyphs">2004</text>
<text x="113.48" y="302.3" font-size="5.4" fill="#444444" text-anchor="middle" font-weight="normal" font-family='"Liberation Serif", serif' stroke="#444444" stroke-width="0.1" textLength="9.6" lengthAdjust="spacingAndGlyphs">2005</text>
<text x="129.75" y="302.3" font-size="5.4" fill="#444444" text-anchor="middle" font-weight="normal" font-family='"Liberation Serif", serif' stroke="#444444" stroke-width="0.1" textLength="9.6" lengthAdjust="spacingAndGlyphs">2006</text>
<text x="146.03" y="302.3" font-size="5.4" fill="#444444" text-anchor="middle" font-weight="normal" font-family='"Liberation Serif", serif' stroke="#444444" stroke-width="0.1" textLength="9.6" lengthAdjust="spacingAndGlyphs">2007</text>
<text x="162.29" y="302.3" font-size="5.4" fill="#444444" text-anchor="middle" font-weight="normal" font-family='"Liberation Serif", serif' stroke="#444444" stroke-width="0.1" textLength="9.6" lengthAdjust="spacingAndGlyphs">2008</text>
<text x="178.56" y="302.3" font-size="5.4" fill="#444444" text-anchor="middle" font-weight="normal" font-family='"Liberation Serif", serif' stroke="#444444" stroke-width="0.1" textLength="9.6" lengthAdjust="spacingAndGlyphs">2009</text>
<text x="194.83" y="302.3" font-size="5.4" fill="#444444" text-anchor="middle" font-weight="normal" font-family='"Liberation Serif", serif' stroke="#444444" stroke-width="0.1" textLength="9.6" lengthAdjust="spacingAndGlyphs">2010</text>
<text x="211.1" y="302.3" font-size="5.4" fill="#444444" text-anchor="middle" font-weight="normal" font-family='"Liberation Serif", serif' stroke="#444444" stroke-width="0.1" textLength="9.6" lengthAdjust="spacingAndGlyphs">2011</text>
<text x="227.38" y="302.3" font-size="5.4" fill="#444444" text-anchor="middle" font-weight="normal" font-family='"Liberation Serif", serif' stroke="#444444" stroke-width="0.1" textLength="9.6" lengthAdjust="spacingAndGlyphs">2012</text>
<text x="243.64" y="302.3" font-size="5.4" fill="#444444" text-anchor="middle" font-weight="normal" font-family='"Liberation Serif", serif' stroke="#444444" stroke-width="0.1" textLength="9.6" lengthAdjust="spacingAndGlyphs">2013</text>
<text x="259.92" y="302.3" font-size="5.4" fill="#444444" text-anchor="middle" font-weight="normal" font-family='"Liberation Serif", serif' stroke="#444444" stroke-width="0.1" textLength="9.6" lengthAdjust="spacingAndGlyphs">2014</text>
<text x="146.3" y="311.5" font-size="7" fill="#404040" text-anchor="middle" font-weight="normal" font-family='"Liberation Serif", serif' stroke="#404040" stroke-width="0.38" textLength="15.2" lengthAdjust="spacingAndGlyphs">Years</text>
<text x="9.9" y="229.3" font-size="6.8" fill="#505050" text-anchor="middle" font-weight="normal" font-family='"Liberation Serif", serif' stroke="#505050" stroke-width="0.18" transform="rotate(-90 9.9 229.3)" textLength="41.8" lengthAdjust="spacingAndGlyphs">Rainfall (mm)</text>
<text x="249.3" y="171.8" font-size="7.3" fill="#000" text-anchor="middle" font-weight="bold" font-family='"Liberation Sans", sans-serif' stroke="#000" stroke-width="0.3">c</text>
<line x1="32.13" y1="231.74" x2="257.4" y2="215.6" stroke="#6d9be0" stroke-width="0.7" stroke-dasharray="3.8 1.2 1 1.2" stroke-opacity="0.85"/>
<polygon points="257.4,215.6 254.51,217.31 254.3,214.32" fill="#2e6fd0"/>
<line x1="37.5" y1="265.66" x2="258.4" y2="238.4" stroke="#f5a070" stroke-width="0.7" stroke-dasharray="3.8 1.2 1 1.2" stroke-opacity="0.85"/>
<polygon points="258.4,238.4 255.61,240.26 255.24,237.28" fill="#f47325"/>
<polyline fill="none" stroke="#2e6fd0" stroke-width="0.95" stroke-linejoin="round" points="32.13,247.59 48.41,178.48 64.67,266.95 80.94,227.87 97.22,232.67 113.48,217.37 129.75,207.42 146.03,239.48 162.29,234.32 178.56,180.88 194.83,235.25 211.1,256.62 227.38,234.32 243.64,223.45 259.92,202.44"/>
<circle cx="32.13" cy="247.59" r="1.35" fill="#2e6fd0"/>
<circle cx="48.41" cy="178.48" r="1.35" fill="#2e6fd0"/>
<circle cx="64.67" cy="266.95" r="1.35" fill="#2e6fd0"/>
<circle cx="80.94" cy="227.87" r="1.35" fill="#2e6fd0"/>
<circle cx="97.22" cy="232.67" r="1.35" fill="#2e6fd0"/>
<circle cx="113.48" cy="217.37" r="1.35" fill="#2e6fd0"/>
<circle cx="129.75" cy="207.42" r="1.35" fill="#2e6fd0"/>
<circle cx="146.03" cy="239.48" r="1.35" fill="#2e6fd0"/>
<circle cx="162.29" cy="234.32" r="1.35" fill="#2e6fd0"/>
<circle cx="178.56" cy="180.88" r="1.35" fill="#2e6fd0"/>
<circle cx="194.83" cy="235.25" r="1.35" fill="#2e6fd0"/>
<circle cx="211.1" cy="256.62" r="1.35" fill="#2e6fd0"/>
<circle cx="227.38" cy="234.32" r="1.35" fill="#2e6fd0"/>
<circle cx="243.64" cy="223.45" r="1.35" fill="#2e6fd0"/>
<circle cx="259.92" cy="202.44" r="1.35" fill="#2e6fd0"/>
<polyline fill="none" stroke="#f47325" stroke-width="0.95" stroke-linejoin="round" points="32.13,256.99 48.41,256.99 64.67,277.45 80.94,254.6 97.22,265.84 113.48,234.51 129.75,231.19 146.03,249.25 162.29,268.79 178.56,237.27 194.83,244.83 211.1,248.15 227.38,258.47 243.64,235.8 259.92,241.88"/>
<circle cx="32.13" cy="256.99" r="1.35" fill="#f47325"/>
<circle cx="48.41" cy="256.99" r="1.35" fill="#f47325"/>
<circle cx="64.67" cy="277.45" r="1.35" fill="#f47325"/>
<circle cx="80.94" cy="254.6" r="1.35" fill="#f47325"/>
<circle cx="97.22" cy="265.84" r="1.35" fill="#f47325"/>
<circle cx="113.48" cy="234.51" r="1.35" fill="#f47325"/>
<circle cx="129.75" cy="231.19" r="1.35" fill="#f47325"/>
<circle cx="146.03" cy="249.25" r="1.35" fill="#f47325"/>
<circle cx="162.29" cy="268.79" r="1.35" fill="#f47325"/>
<circle cx="178.56" cy="237.27" r="1.35" fill="#f47325"/>
<circle cx="194.83" cy="244.83" r="1.35" fill="#f47325"/>
<circle cx="211.1" cy="248.15" r="1.35" fill="#f47325"/>
<circle cx="227.38" cy="258.47" r="1.35" fill="#f47325"/>
<circle cx="243.64" cy="235.8" r="1.35" fill="#f47325"/>
<circle cx="259.92" cy="241.88" r="1.35" fill="#f47325"/>
<line x1="87.4" y1="319.9" x2="96.8" y2="319.9" stroke="#8fb4ea" stroke-width="1.3"/>
<circle cx="92.1" cy="319.9" r="1.3" fill="#2e6fd0"/>
<text x="97.5" y="321.64" font-size="5.8" fill="#383838" text-anchor="start" font-weight="normal" font-family='"Liberation Serif", serif' stroke="#383838" stroke-width="0.15" textLength="19.5" lengthAdjust="spacingAndGlyphs">ORISSA</text>
<line x1="126.9" y1="319.9" x2="135.8" y2="319.9" stroke="#f8b48a" stroke-width="1.3"/>
<circle cx="131.35" cy="319.9" r="1.3" fill="#f47325"/>
<text x="136.9" y="321.64" font-size="5.8" fill="#383838" text-anchor="start" font-weight="normal" font-family='"Liberation Serif", serif' stroke="#383838" stroke-width="0.15" textLength="66.2" lengthAdjust="spacingAndGlyphs">MADHYA MAHARASHTRA</text>
<line x1="303.7" y1="165.34" x2="303.7" y2="286.5" stroke="#c4c4c4" stroke-width="0.95"/>
<line x1="303.7" y1="286.5" x2="541.28" y2="286.5" stroke="#a9a9a9" stroke-width="1.0"/>
<text x="299.2" y="288.55" font-size="5.4" fill="#444444" text-anchor="end" font-weight="normal" font-family='"Liberation Serif", serif' stroke="#444444" stroke-width="0.1" textLength="2.5" lengthAdjust="spacingAndGlyphs">0</text>
<line x1="301.9" y1="286.6" x2="303.7" y2="286.6" stroke="#a8a8a8" stroke-width="0.7"/>
<text x="299.2" y="273.33" font-size="5.4" fill="#444444" text-anchor="end" font-weight="normal" font-family='"Liberation Serif", serif' stroke="#444444" stroke-width="0.1" textLength="7.5" lengthAdjust="spacingAndGlyphs">100</text>
<line x1="301.9" y1="271.38" x2="303.7" y2="271.38" stroke="#a8a8a8" stroke-width="0.7"/>
<text x="299.2" y="258.11" font-size="5.4" fill="#444444" text-anchor="end" font-weight="normal" font-family='"Liberation Serif", serif' stroke="#444444" stroke-width="0.1" textLength="7.5" lengthAdjust="spacingAndGlyphs">200</text>
<line x1="301.9" y1="256.16" x2="303.7" y2="256.16" stroke="#a8a8a8" stroke-width="0.7"/>
<text x="299.2" y="242.89" font-size="5.4" fill="#444444" text-anchor="end" font-weight="normal" font-family='"Liberation Serif", serif' stroke="#444444" stroke-width="0.1" textLength="7.5" lengthAdjust="spacingAndGlyphs">300</text>
<line x1="301.9" y1="240.94" x2="303.7" y2="240.94" stroke="#a8a8a8" stroke-width="0.7"/>
<text x="299.2" y="227.67" font-size="5.4" fill="#444444" text-anchor="end" font-weight="normal" font-family='"Liberation Serif", serif' stroke="#444444" stroke-width="0.1" textLength="7.5" lengthAdjust="spacingAndGlyphs">400</text>
<line x1="301.9" y1="225.72" x2="303.7" y2="225.72" stroke="#a8a8a8" stroke-width="0.7"/>
<text x="299.2" y="212.45" font-size="5.4" fill="#444444" text-anchor="end" font-weight="normal" font-family='"Liberation Serif", serif' stroke="#444444" stroke-width="0.1" textLength="7.5" lengthAdjust="spacingAndGlyphs">500</text>
<line x1="301.9" y1="210.5" x2="303.7" y2="210.5" stroke="#a8a8a8" stroke-width="0.7"/>
<text x="299.2" y="197.23" font-size="5.4" fill="#444444" text-anchor="end" font-weight="normal" font-family='"Liberation Serif", serif' stroke="#444444" stroke-width="0.1" textLength="7.5" lengthAdjust="spacingAndGlyphs">600</text>
<line x1="301.9" y1="195.28" x2="303.7" y2="195.28" stroke="#a8a8a8" stroke-width="0.7"/>
<text x="299.2" y="182.01" font-size="5.4" fill="#444444" text-anchor="end" font-weight="normal" font-family='"Liberation Serif", serif' stroke="#444444" stroke-width="0.1" textLength="7.5" lengthAdjust="spacingAndGlyphs">700</text>
<line x1="301.9" y1="180.06" x2="303.7" y2="180.06" stroke="#a8a8a8" stroke-width="0.7"/>
<text x="299.2" y="166.79" font-size="5.4" fill="#444444" text-anchor="end" font-weight="normal" font-family='"Liberation Serif", serif' stroke="#444444" stroke-width="0.1" textLength="7.5" lengthAdjust="spacingAndGlyphs">800</text>
<line x1="301.9" y1="164.84" x2="303.7" y2="164.84" stroke="#a8a8a8" stroke-width="0.7"/>
<line x1="303.7" y1="286.5" x2="303.7" y2="288.3" stroke="#a8a8a8" stroke-width="0.7"/>
<text x="303.7" y="295.9" font-size="5.4" fill="#444444" text-anchor="middle" font-weight="normal" font-family='"Liberation Serif", serif' stroke="#444444" stroke-width="0.1" textLength="9.6" lengthAdjust="spacingAndGlyphs">2000</text>
<line x1="337.64" y1="286.5" x2="337.64" y2="288.3" stroke="#a8a8a8" stroke-width="0.7"/>
<text x="337.64" y="295.9" font-size="5.4" fill="#444444" text-anchor="middle" font-weight="normal" font-family='"Liberation Serif", serif' stroke="#444444" stroke-width="0.1" textLength="9.6" lengthAdjust="spacingAndGlyphs">2002</text>
<line x1="371.58" y1="286.5" x2="371.58" y2="288.3" stroke="#a8a8a8" stroke-width="0.7"/>
<text x="371.58" y="295.9" font-size="5.4" fill="#444444" text-anchor="middle" font-weight="normal" font-family='"Liberation Serif", serif' stroke="#444444" stroke-width="0.1" textLength="9.6" lengthAdjust="spacingAndGlyphs">2004</text>
<line x1="405.52" y1="286.5" x2="405.52" y2="288.3" stroke="#a8a8a8" stroke-width="0.7"/>
<text x="405.52" y="295.9" font-size="5.4" fill="#444444" text-anchor="middle" font-weight="normal" font-family='"Liberation Serif", serif' stroke="#444444" stroke-width="0.1" textLength="9.6" lengthAdjust="spacingAndGlyphs">2006</text>
<line x1="439.46" y1="286.5" x2="439.46" y2="288.3" stroke="#a8a8a8" stroke-width="0.7"/>
<text x="439.46" y="295.9" font-size="5.4" fill="#444444" text-anchor="middle" font-weight="normal" font-family='"Liberation Serif", serif' stroke="#444444" stroke-width="0.1" textLength="9.6" lengthAdjust="spacingAndGlyphs">2008</text>
<line x1="473.4" y1="286.5" x2="473.4" y2="288.3" stroke="#a8a8a8" stroke-width="0.7"/>
<text x="473.4" y="295.9" font-size="5.4" fill="#444444" text-anchor="middle" font-weight="normal" font-family='"Liberation Serif", serif' stroke="#444444" stroke-width="0.1" textLength="9.6" lengthAdjust="spacingAndGlyphs">2010</text>
<line x1="507.34" y1="286.5" x2="507.34" y2="288.3" stroke="#a8a8a8" stroke-width="0.7"/>
<text x="507.34" y="295.9" font-size="5.4" fill="#444444" text-anchor="middle" font-weight="normal" font-family='"Liberation Serif", serif' stroke="#444444" stroke-width="0.1" textLength="9.6" lengthAdjust="spacingAndGlyphs">2012</text>
<line x1="541.28" y1="286.5" x2="541.28" y2="288.3" stroke="#a8a8a8" stroke-width="0.7"/>
<text x="541.28" y="295.9" font-size="5.4" fill="#444444" text-anchor="middle" font-weight="normal" font-family='"Liberation Serif", serif' stroke="#444444" stroke-width="0.1" textLength="9.6" lengthAdjust="spacingAndGlyphs">2014</text>
<text x="423.1" y="306.5" font-size="7" fill="#404040" text-anchor="middle" font-weight="normal" font-family='"Liberation Serif", serif' stroke="#404040" stroke-width="0.38" textLength="15.4" lengthAdjust="spacingAndGlyphs">Years</text>
<text x="289" y="223.5" font-size="6.9" fill="#505050" text-anchor="middle" font-weight="normal" font-family='"Liberation Serif", serif' stroke="#505050" stroke-width="0.12" transform="rotate(-90 289 223.5)" textLength="45" lengthAdjust="spacingAndGlyphs">Rainfall (mm)</text>
<text x="529.9" y="171" font-size="7.2" fill="#000" text-anchor="middle" font-weight="bold" font-family='"Liberation Sans", sans-serif'>d</text>
<line x1="305.5" y1="205.48" x2="538.4" y2="224.96" stroke="#e06070" stroke-width="0.7" stroke-dasharray="3.8 1.2 1 1.2" stroke-opacity="0.85"/>
<polygon points="538.4,224.96 535.29,226.2 535.54,223.21" fill="#d92330"/>
<line x1="307" y1="240.18" x2="543" y2="254.03" stroke="#6d9be0" stroke-width="0.7" stroke-dasharray="3.8 1.2 1 1.2" stroke-opacity="0.85"/>
<polygon points="543,254.03 539.92,255.35 540.09,252.36" fill="#2e6fd0"/>
<line x1="305" y1="257.83" x2="545" y2="275.95" stroke="#f5a070" stroke-width="0.7" stroke-dasharray="3.8 1.2 1 1.2" stroke-opacity="0.85"/>
<polygon points="545,275.95 541.9,277.22 542.12,274.22" fill="#f47325"/>
<polyline fill="none" stroke="#2e6fd0" stroke-width="0.95" stroke-linejoin="round" points="303.7,246.88 320.67,251.29 337.64,225.42 354.61,234.09 371.58,223.13 388.55,245.51 405.52,241.7 422.49,210.5 439.46,221.76 456.43,251.59 473.4,244.75 490.37,247.94 507.34,241.55 524.31,259.66 541.28,245.96"/>
<circle cx="303.7" cy="246.88" r="1.35" fill="#2e6fd0"/>
<circle cx="320.67" cy="251.29" r="1.35" fill="#2e6fd0"/>
<circle cx="337.64" cy="225.42" r="1.35" fill="#2e6fd0"/>
<circle cx="354.61" cy="234.09" r="1.35" fill="#2e6fd0"/>
<circle cx="371.58" cy="223.13" r="1.35" fill="#2e6fd0"/>
<circle cx="388.55" cy="245.51" r="1.35" fill="#2e6fd0"/>
<circle cx="405.52" cy="241.7" r="1.35" fill="#2e6fd0"/>
<circle cx="422.49" cy="210.5" r="1.35" fill="#2e6fd0"/>
<circle cx="439.46" cy="221.76" r="1.35" fill="#2e6fd0"/>
<circle cx="456.43" cy="251.59" r="1.35" fill="#2e6fd0"/>
<circle cx="473.4" cy="244.75" r="1.35" fill="#2e6fd0"/>
<circle cx="490.37" cy="247.94" r="1.35" fill="#2e6fd0"/>
<circle cx="507.34" cy="241.55" r="1.35" fill="#2e6fd0"/>
<circle cx="524.31" cy="259.66" r="1.35" fill="#2e6fd0"/>
<circle cx="541.28" cy="245.96" r="1.35" fill="#2e6fd0"/>
<polyline fill="none" stroke="#f47325" stroke-width="0.95" stroke-linejoin="round" points="303.7,262.4 320.67,247.33 337.64,276.25 354.61,256.62 371.58,276.55 388.55,256.62 405.52,261.18 422.49,274.27 439.46,273.05 456.43,262.1 473.4,255.7 490.37,274.27 507.34,277.01 524.31,268.94 541.28,275.79"/>
<circle cx="303.7" cy="262.4" r="1.35" fill="#f47325"/>
<circle cx="320.67" cy="247.33" r="1.35" fill="#f47325"/>
<circle cx="337.64" cy="276.25" r="1.35" fill="#f47325"/>
<circle cx="354.61" cy="256.62" r="1.35" fill="#f47325"/>
<circle cx="371.58" cy="276.55" r="1.35" fill="#f47325"/>
<circle cx="388.55" cy="256.62" r="1.35" fill="#f47325"/>
<circle cx="405.52" cy="261.18" r="1.35" fill="#f47325"/>
<circle cx="422.49" cy="274.27" r="1.35" fill="#f47325"/>
<circle cx="439.46" cy="273.05" r="1.35" fill="#f47325"/>
<circle cx="456.43" cy="262.1" r="1.35" fill="#f47325"/>
<circle cx="473.4" cy="255.7" r="1.35" fill="#f47325"/>
<circle cx="490.37" cy="274.27" r="1.35" fill="#f47325"/>
<circle cx="507.34" cy="277.01" r="1.35" fill="#f47325"/>
<circle cx="524.31" cy="268.94" r="1.35" fill="#f47325"/>
<circle cx="541.28" cy="275.79" r="1.35" fill="#f47325"/>
<polyline fill="none" stroke="#d92330" stroke-width="0.95" stroke-linejoin="round" points="303.7,212.02 320.67,199.39 337.64,263.47 354.61,191.93 371.58,223.13 388.55,192.24 405.52,198.32 422.49,215.67 439.46,184.32 456.43,241.55 473.4,209.28 490.37,219.33 507.34,207.61 524.31,215.67 541.28,229.83"/>
<circle cx="303.7" cy="212.02" r="1.35" fill="#d92330"/>
<circle cx="320.67" cy="199.39" r="1.35" fill="#d92330"/>
<circle cx="337.64" cy="263.47" r="1.35" fill="#d92330"/>
<circle cx="354.61" cy="191.93" r="1.35" fill="#d92330"/>
<circle cx="371.58" cy="223.13" r="1.35" fill="#d92330"/>
<circle cx="388.55" cy="192.24" r="1.35" fill="#d92330"/>
<circle cx="405.52" cy="198.32" r="1.35" fill="#d92330"/>
<circle cx="422.49" cy="215.67" r="1.35" fill="#d92330"/>
<circle cx="439.46" cy="184.32" r="1.35" fill="#d92330"/>
<circle cx="456.43" cy="241.55" r="1.35" fill="#d92330"/>
<circle cx="473.4" cy="209.28" r="1.35" fill="#d92330"/>
<circle cx="490.37" cy="219.33" r="1.35" fill="#d92330"/>
<circle cx="507.34" cy="207.61" r="1.35" fill="#d92330"/>
<circle cx="524.31" cy="215.67" r="1.35" fill="#d92330"/>
<circle cx="541.28" cy="229.83" r="1.35" fill="#d92330"/>
<line x1="353.9" y1="316.8" x2="362.6" y2="316.8" stroke="#8fb4ea" stroke-width="1.3"/>
<circle cx="358.25" cy="316.8" r="1.3" fill="#2e6fd0"/>
<text x="363.5" y="318.54" font-size="5.8" fill="#383838" text-anchor="start" font-weight="normal" font-family='"Liberation Serif", serif' stroke="#383838" stroke-width="0.15" textLength="16" lengthAdjust="spacingAndGlyphs">BIHAR</text>
<line x1="387.3" y1="316.8" x2="395.5" y2="316.8" stroke="#f8b48a" stroke-width="1.3"/>
<circle cx="391.4" cy="316.8" r="1.3" fill="#f47325"/>
<text x="396.3" y="318.54" font-size="5.8" fill="#383838" text-anchor="start" font-weight="normal" font-family='"Liberation Serif", serif' stroke="#383838" stroke-width="0.15" textLength="19.5" lengthAdjust="spacingAndGlyphs">PUNJAB</text>
<line x1="423.1" y1="316.8" x2="431.2" y2="316.8" stroke="#ea8a90" stroke-width="1.3"/>
<circle cx="427.15" cy="316.8" r="1.3" fill="#d92330"/>
<text x="432.4" y="318.54" font-size="5.8" fill="#383838" text-anchor="start" font-weight="normal" font-family='"Liberation Serif", serif' stroke="#383838" stroke-width="0.15" textLength="43.1" lengthAdjust="spacingAndGlyphs">UTTAR PRADESH</text>
</svg>
</body></html>
